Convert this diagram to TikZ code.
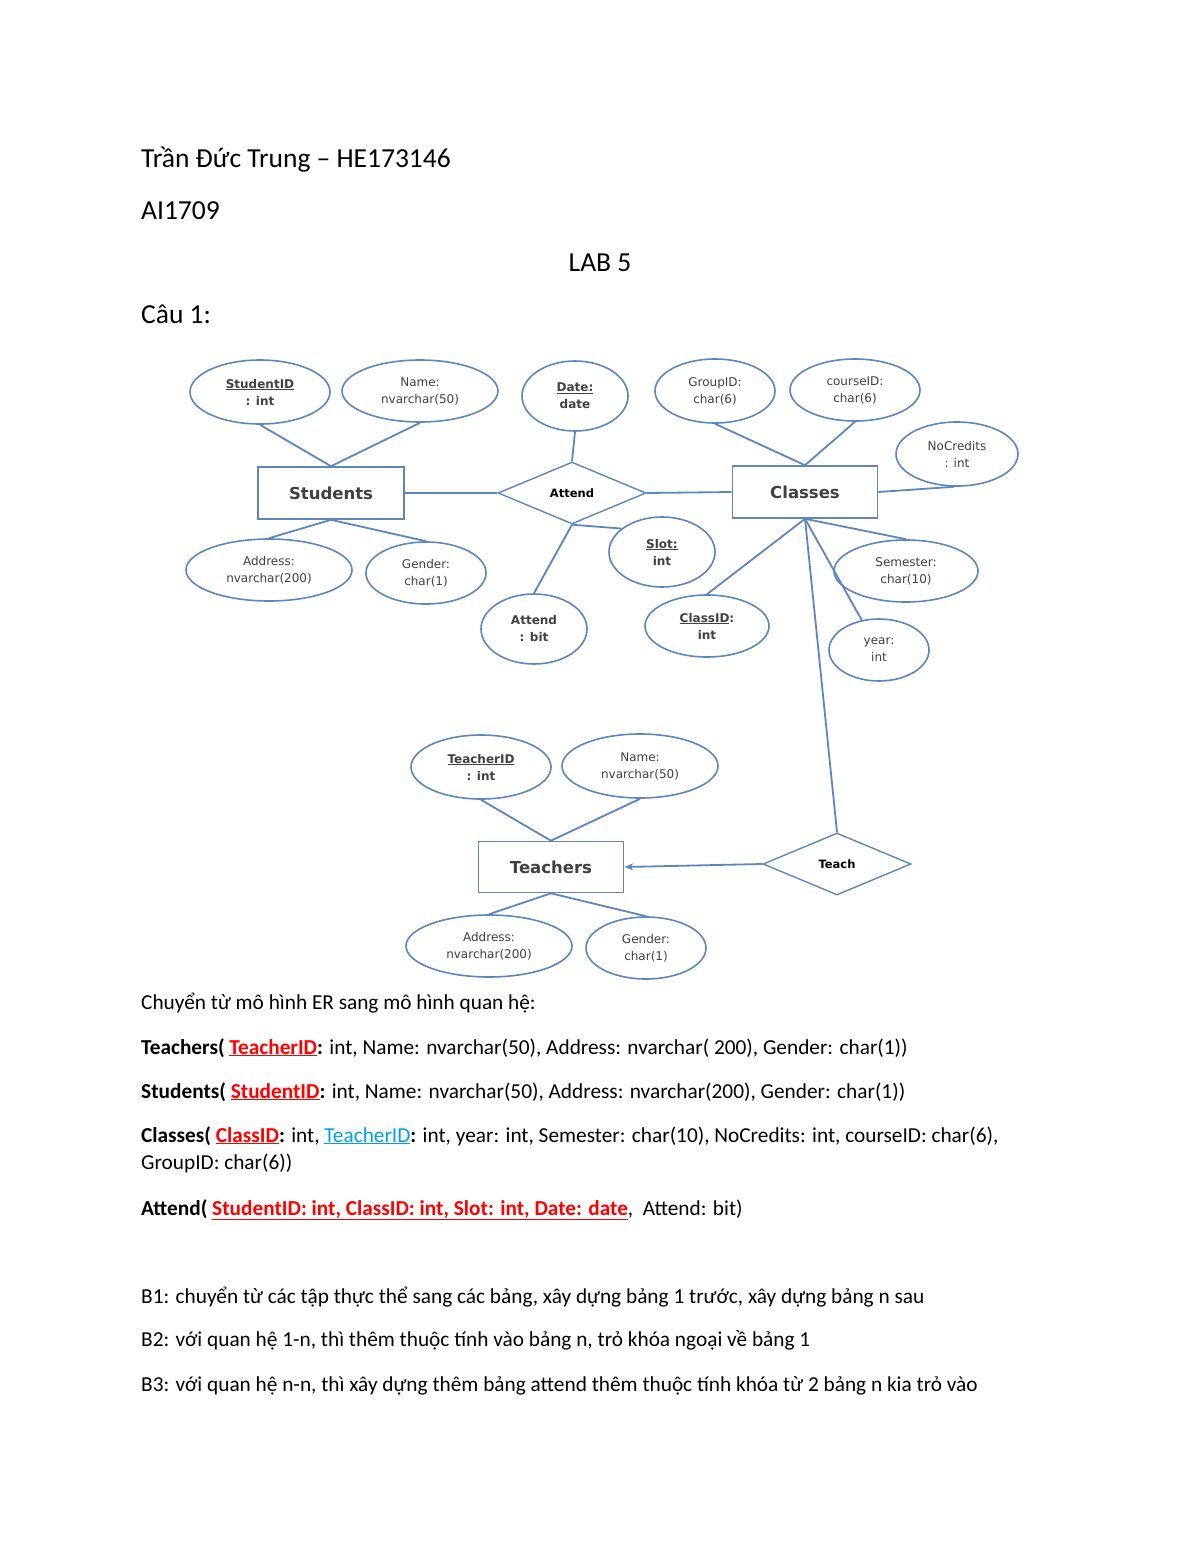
\documentclass[tikz,border=0pt]{standalone}
\usepackage{fontspec}
\setmainfont{Carlito}
\newfontfamily\dg{DejaVu Sans}
\usetikzlibrary{shapes.geometric,arrows.meta}
\definecolor{er}{HTML}{5B86C0}
\definecolor{tx}{HTML}{404040}
\definecolor{lb}{HTML}{00A0E8}
\begin{document}
\begin{tikzpicture}[x=1pt,y=-1pt,
 att/.style={ellipse,draw=er,line width=1.6pt,inner sep=0pt,align=center,font=\dg\fontsize{12}{17}\selectfont,text=tx},
 ent/.style={rectangle,draw=er!80!gray,line width=1.6pt,inner sep=0pt,font=\dg\bfseries\fontsize{16.5}{18}\selectfont,text=tx},
 rel/.style={diamond,aspect=2.4,draw=er,line width=1.4pt,inner sep=0pt,font=\dg\bfseries\fontsize{11.5}{12}\selectfont,text=black},
 ln/.style={er,line width=1.8pt},
 txt/.style={anchor=base west,inner sep=0pt,font=\fontsize{21.3}{24}\selectfont}]
\useasboundingbox[fill=white] (0,0) rectangle (1200,1553);
% header
\node[txt,font=\fontsize{27.5}{30}\selectfont] (h1) at (141,167) {Trần Đức Trung – HE173146};
\node[txt,font=\fontsize{27.5}{30}\selectfont] (h2) at (141,219) {AI1709};
\node[anchor=base,inner sep=0pt,font=\fontsize{27.5}{30}\selectfont] (h3) at (600,271) {LAB 5};
\node[txt,font=\fontsize{27.5}{30}\selectfont] (h4) at (141,323) {Câu 1:};
% attributes
\node[att,minimum width=140,minimum height=64] (sid) at (260,392) {\textbf{\underline{StudentID}}\\\textbf{: int}};
\node[att,minimum width=156,minimum height=62] (sname) at (420,391) {Name:\\nvarchar(50)};
\node[att,minimum width=106,minimum height=70] (date) at (575,396) {\textbf{\underline{Date:}}\\\textbf{date}};
\node[att,minimum width=120,minimum height=64] (gid) at (715,391) {GroupID:\\char(6)};
\node[att,minimum width=130,minimum height=62] (cid) at (855,390) {courseID:\\char(6)};
\node[att,minimum width=122,minimum height=64] (nc) at (957,454) {NoCredits\\: int};
\node[ent,minimum width=146,minimum height=52] (stu) at (331,493) {Students};
\node[rel,minimum width=148,minimum height=62] (att) at (572,493) {Attend};
\node[ent,minimum width=145,minimum height=52] (cls) at (805,492) {Classes};
\node[att,minimum width=166,minimum height=62] (saddr) at (269,570) {Address:\\nvarchar(200)};
\node[att,minimum width=120,minimum height=62] (sgen) at (426,573) {Gender:\\char(1)};
\node[att,minimum width=106,minimum height=70] (slot) at (662,552) {\textbf{\underline{Slot:}}\\\textbf{int}};
\node[att,minimum width=106,minimum height=70] (abit) at (534,629) {\textbf{Attend}\\\textbf{: bit}};
\node[att,minimum width=124,minimum height=62] (clid) at (707,626) {\textbf{\underline{ClassID}:}\\\textbf{int}};
\node[att,minimum width=144,minimum height=62] (sem) at (906,571) {Semester:\\char(10)};
\node[att,minimum width=100,minimum height=62] (year) at (879,650) {year:\\int};
\node[att,minimum width=140,minimum height=64] (tid) at (481,767) {\textbf{\underline{TeacherID}}\\\textbf{: int}};
\node[att,minimum width=156,minimum height=64] (tname) at (640,766) {Name:\\nvarchar(50)};
\node[ent,minimum width=145,minimum height=51] (tea) at (551,867) {Teachers};
\node[rel,minimum width=148,minimum height=62] (teach) at (837,864) {Teach};
\node[att,minimum width=166,minimum height=62] (taddr) at (489,946) {Address:\\nvarchar(200)};
\node[att,minimum width=120,minimum height=62] (tgen) at (646,948) {Gender:\\char(1)};
% connectors
\draw[ln] (sid.south) -- (stu.north);
\draw[ln] (sname.south) -- (stu.north);
\draw[ln] (stu.south) -- (saddr.north);
\draw[ln] (stu.south) -- (sgen.north);
\draw[ln] (stu.east) -- (att.west);
\draw[ln] (date.south) -- (att.north);
\draw[ln] (att.south) -- (abit.north);
\draw[ln] (att.south) -- (slot.150);
\draw[ln] (att.east) -- (cls.west);
\draw[ln] (gid.south) -- (cls.north);
\draw[ln] (cid.south) -- (cls.north);
\draw[ln] (cls.east) -- (nc.265);
\draw[ln] (cls.south) -- (sem.north);
\draw[ln] (cls.south) -- (clid.north);
\draw[ln] (cls.south) -- (year.120);
\draw[ln] (cls.south) -- (teach.north);
\draw[ln,-{Stealth[length=9pt,width=7pt]}] (teach.west) -- (tea.east);
\draw[ln] (tid.south) -- (tea.north);
\draw[ln] (tname.south) -- (tea.north);
\draw[ln] (tea.south) -- (taddr.north);
\draw[ln] (tea.south) -- (tgen.north);
% bottom text
\node[txt] (t1) at (141,1009) {Chuyển từ mô hình ER sang mô hình quan hệ:};
\node[txt] (t2) at (141,1054) {\textbf{Teachers(} \textcolor{red}{\textbf{\underline{TeacherID}}}\textbf{:} int, Name: nvarchar(50), Address: nvarchar( 200), Gender: char(1))};
\node[txt] (t3) at (141,1098) {\textbf{Students(} \textcolor{red}{\textbf{\underline{StudentID}}}\textbf{:} int, Name: nvarchar(50), Address: nvarchar(200), Gender: char(1))};
\node[txt] (t4) at (141,1142) {\textbf{Classes(} \textcolor{red}{\textbf{\underline{ClassID}}}\textbf{:} int, \textcolor{lb}{\underline{TeacherID}}\textbf{:} int, year: int, Semester: char(10), NoCredits: int, courseID: char(6),};
\node[txt] (t5) at (141,1169) {GroupID: char(6))};
\node[txt] (t6) at (141,1215) {\textbf{Attend(} \textcolor{red}{\textbf{\underline{StudentID: int, ClassID: int, Slot: int, Date: date}}},\ \ Attend: bit)};
\node[txt] (t7) at (141,1303) {B1: chuyển từ các tập thực thể sang các bảng, xây dựng bảng 1 trước, xây dựng bảng n sau};
\node[txt] (t8) at (141,1346) {B2: với quan hệ 1-n, thì thêm thuộc tính vào bảng n, trỏ khóa ngoại về bảng 1};
\node[txt] (t9) at (141,1391) {B3: với quan hệ n-n, thì xây dựng thêm bảng attend thêm thuộc tính khóa từ 2 bảng n kia trỏ vào};
\end{tikzpicture}
\end{document}
